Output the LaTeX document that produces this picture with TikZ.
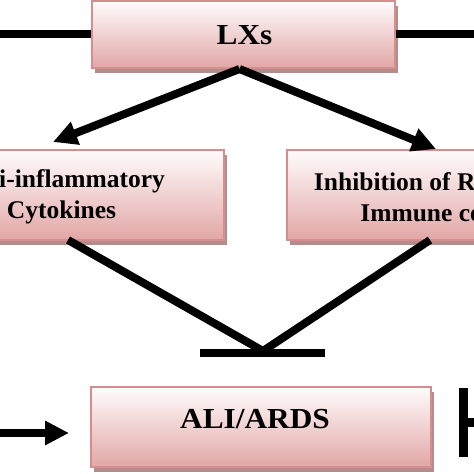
\documentclass[tikz,border=0pt]{standalone}
\usepackage{fontspec}
\setmainfont{Liberation Serif}
\newfontfamily\bigserif[FakeStretch=1.08]{Liberation Serif}
\usetikzlibrary{arrows.meta,shadows}
\definecolor{boxedge}{RGB}{212,142,142}
\definecolor{boxbot}{RGB}{226,166,166}
\definecolor{boxtop}{RGB}{255,252,252}
\definecolor{shadowc}{RGB}{180,140,140}
\tikzset{
  pinkbox/.style={draw=boxedge, line width=2pt, top color=boxtop, bottom color=boxbot,
    drop shadow={shadow xshift=3pt, shadow yshift=-5pt, fill=shadowc, opacity=1},
    inner sep=0pt},
  bigtext/.style={font=\bigserif\bfseries\fontsize{29}{34}\selectfont, inner sep=0pt},
  midtext/.style={font=\bfseries\fontsize{25.5}{31}\selectfont, align=center, inner sep=0pt},
  conn/.style={line width=8pt, black},
  arr/.style={conn, -{Triangle[length=24pt,width=23pt]}},
}
\begin{document}
\begin{tikzpicture}[x=1pt,y=-1pt]
\useasboundingbox (0,0) rectangle (474,474);
% boxes
\node[pinkbox, minimum width=303pt, minimum height=67pt] (lxs) at (243.5,34.5) {};
\node[bigtext, anchor=base] (lxstxt) at (244.5,44.3) {LXs};
\node[pinkbox, minimum width=325pt, minimum height=90pt] (anti) at (61.5,195) {};
\node[midtext] (antitxt) at (61.5,197) {Anti-inflammatory\\Cytokines};
\node[pinkbox, minimum width=290pt, minimum height=90pt] (inhib) at (432,195) {};
\node[midtext] (inhibtxt) at (433,197) {Inhibition of Resident\\Immune cells};
\node[pinkbox, minimum width=340pt, minimum height=80pt] (ali) at (261,427) {};
\node[bigtext, anchor=base] (alitxt) at (255,428) {ALI/ARDS};
% free ends
\coordinate (lin) at (-6,34);
\coordinate (rin) at (480,33.5);
\coordinate (aliin) at (-6,433);
\coordinate (junction) at (263,351);
\coordinate (barL) at (200,353);
\coordinate (barR) at (325,353);
\coordinate (rstub) at (480,422.5);
\coordinate (rbar) at (463,422.5);
% connectors
\draw[conn] (lin) -- (lxs.west |- lin);
\draw[conn] (lxs.east |- rin) -- (rin);
\draw[arr] ([xshift=-4pt]lxs.south) -- ([xshift=-8.5pt,yshift=7pt]anti.north);
\draw[arr] ([xshift=-4pt]lxs.south) -- ([xshift=4pt]inhib.north);
\draw[conn] ([xshift=6.5pt,yshift=1pt]anti.south) -- (junction);
\draw[conn] ([xshift=-2pt,yshift=1pt]inhib.south) -- (junction);
\draw[conn] (barL) -- (barR);
\draw[arr] (aliin) -- ([xshift=-21pt,yshift=-6pt]ali.west);
\draw[line width=9pt] (rstub) -- (rbar);
\draw[line width=9pt] ([yshift=34.5pt]rbar) -- ([yshift=-34.5pt]rbar);
\end{tikzpicture}
\end{document}
